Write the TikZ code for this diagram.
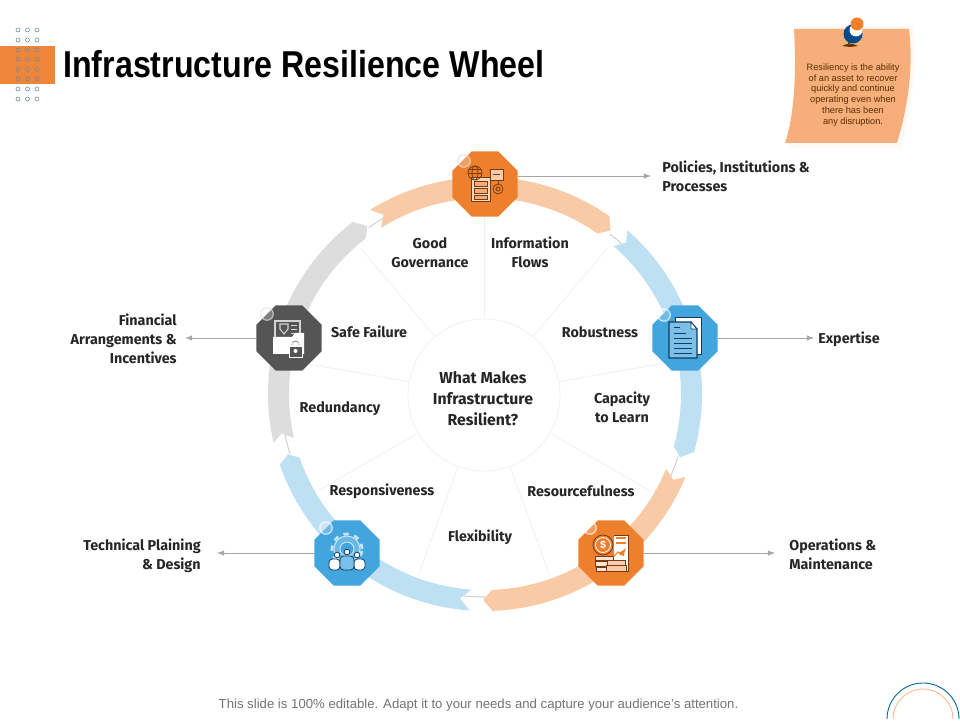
\documentclass[tikz,border=0pt]{standalone}
\usepackage{fontspec}
\usepackage{xcolor}
\usepackage{tikz}
\usetikzlibrary{arrows}
\usetikzlibrary{calc}
\usetikzlibrary{positioning}
\usetikzlibrary{shapes.geometric}
\setmainfont{Liberation Sans}
\newfontfamily\labelfam{Fira Sans}
\newfontfamily\titlefam[FakeStretch=0.86]{Liberation Sans}
\definecolor{orangeMain}{HTML}{EE7F2D}
\definecolor{orangeSoft}{HTML}{F8CBA6}
\definecolor{blueMain}{HTML}{42A5DE}
\definecolor{blueSoft}{HTML}{BDE0F3}
\definecolor{greyMain}{HTML}{555555}
\definecolor{greySoft}{HTML}{DDDDDD}
\definecolor{noteFill}{HTML}{F6AF7B}
\definecolor{spokeCol}{HTML}{F1F1F1}
\definecolor{inkCol}{HTML}{262626}
\definecolor{iconOrange}{HTML}{7A3A10}
\definecolor{iconBlue}{HTML}{123C60}
\tikzset{
  octa/.style={regular polygon, regular polygon sides=8, minimum size=1.408cm, inner sep=0pt},
  txt/.style={inner sep=0pt, text=inkCol, font=\labelfam\bfseries\fontsize{8.15}{10.8}\selectfont},
  ringmark/.style={circle, draw=white, line width=0.7pt, fill=white, fill opacity=0.25, draw opacity=0.7, minimum size=0.25cm, inner sep=0pt},
  leader/.style={-latex, draw=black!35, line width=0.4pt},
  spoke/.style={draw=spokeCol, line width=0.5pt},
  gapline/.style={draw=black!18, line width=0.6pt}
}
\begin{document}
\begin{tikzpicture}[x=0.02cm, y=0.02cm]
\useasboundingbox (0,0) rectangle (960,720);
% corner dots and title
\fill [orangeMain!95!white] (0,636) rectangle (55,674);
\foreach \px in {18,27.5,37}
  \foreach \py in {30,40,50,59.5,69.5,79,89,99}
    \draw [draw=black!40!cyan!40!gray, line width=0.35pt] (\px,720-\py) circle (2);
\node [inner sep=0pt, anchor=west, text=black, font=\titlefam\bfseries\fontsize{21.3}{24}\selectfont] (title) at (63,656) {Infrastructure Resilience Wheel};
% note
\fill [noteFill!8] (799,694) -- (913,694) .. controls (918,650) and (911,610) .. (901,572) -- (789,572) -- cycle;
\fill [noteFill] (794,691) -- (909,691) .. controls (914,650) and (907,610) .. (897,577) -- (785,577) .. controls (793,600) and (797,640) .. (794,691) -- cycle;
\fill [black!60!orange] (842,674) .. controls (848,677) and (852,677) .. (858,674) -- (850,673) -- cycle;
\draw [draw=black!50!orange, line width=1pt] (849,680) -- (849,675);
\fill [blue!35!black!70!cyan] (853,686) circle (9.5);
\fill [white] (856,690) circle (6.5);
\fill [orangeMain] (857,696) circle (6.5);
\node [inner sep=0pt, align=center, text=black!65!orange, font=\fontsize{5.25}{6.2}\selectfont] (noteText) at (853,625) {Resiliency is the ability\\of an asset to recover\\quickly and continue\\operating even when\\there has been\\any disruption.};
% wheel
\node [circle, draw=spokeCol, line width=0.5pt, minimum size=3.04cm, inner sep=0pt] (hub) at (484,325) {};
\begin{scope}[shift={(485,326)}]
\draw [gapline] (52:203) arc (52:47:203);
\draw [gapline] (-18:203) arc (-18:-24:203);
\draw [gapline] (-90:203) arc (-90:-97:203);
\draw [gapline] (-163:204) arc (-163:-170:204);
\draw [gapline] (125:203) arc (125:119:203);
\fill [orangeSoft] (122:217) arc (122:55:217) -- (52.5:206) -- (55:196) arc (55:122:196) -- (119.5:206) -- cycle;
\fill [blueSoft] (49:217) arc (49:-15.5:217) -- (-18:205) -- (-15.5:196) arc (-15.5:49:196) -- (47:207) -- cycle;
\fill [orangeSoft] (-22.5:217) arc (-22.5:-88:217) -- (-90.5:206) -- (-88:196) arc (-88:-22.5:196) -- (-24.5:207) -- cycle;
\fill [blueSoft] (-94:217) arc (-94:-161:217) -- (-163:206) -- (-161:196) arc (-161:-94:196) -- (-97:206) -- cycle;
\fill [greySoft] (-167:217) arc (-167:-232.5:217) -- (-235:205) -- (-232.5:196) arc (-232.5:-167:196) -- (-169:207) -- cycle;
\end{scope}
% spokes from the hub out to the ring
\draw [spoke] (hub.90) -- ($(hub)+(90:191)$);
\draw [spoke] (hub.50) -- ($(hub)+(50:191)$);
\draw [spoke] (hub.10) -- ($(hub)+(10:191)$);
\draw [spoke] (hub.-30) -- ($(hub)+(-30:191)$);
\draw [spoke] (hub.-70) -- ($(hub)+(-70:191)$);
\draw [spoke] (hub.-110) -- ($(hub)+(-110:191)$);
\draw [spoke] (hub.-150) -- ($(hub)+(-150:191)$);
\draw [spoke] (hub.170) -- ($(hub)+(170:191)$);
\draw [spoke] (hub.130) -- ($(hub)+(130:191)$);
\node [inner sep=0pt, align=center, text=inkCol, font=\labelfam\bfseries\fontsize{9}{12.1}\selectfont] (hubText) at (483,321.5) {What Makes\\Infrastructure\\Resilient?};
% octagons
\node [octa, fill=orangeMain] (octInfo) at (485,536) {};
\node [octa, fill=blueMain] (octDoc) at (685,382) {};
\node [octa, fill=orangeMain] (octCoin) at (611,167) {};
\node [octa, fill=blueMain] (octTeam) at (347,167) {};
\node [octa, fill=greyMain] (octSafe) at (289,382) {};
\node [ringmark, draw=white!75!gray] (markInfo) at ($(octInfo)+(-21,23)$) {};
\node [ringmark] (markDoc) at ($(octDoc)+(-21,23)$) {};
\node [ringmark] (markCoin) at ($(octCoin)+(-21,25)$) {};
\node [ringmark] (markTeam) at ($(octTeam)+(-21,25)$) {};
\node [ringmark, draw=white!75!gray] (markSafe) at ($(octSafe)+(-22,24)$) {};
% icon on octInfo
\begin{scope}[shift={(octInfo)}, draw=iconOrange, line width=0.45pt]
\draw [fill=white!70!orangeMain] (-14,7) rectangle (5,-17);
\draw [fill=white!35!orangeMain] (-11,3) rectangle (2,-2);
\draw [fill=white!35!orangeMain] (-11,-4) rectangle (2,-9);
\draw [fill=white!35!orangeMain] (-11,-11) rectangle (2,-15);
\draw (-10,11) circle (7);
\draw (-10,11) ellipse (3 and 7);
\draw (-17,11) -- (-3,11);
\draw (-16,14.5) -- (-4,14.5);
\draw [fill=white!60!orangeMain] (5,15) rectangle (18,4);
\draw (8,10) -- (15,10);
\draw (13,4) -- (13,0);
\draw (13,-5) circle (5);
\draw (13,-5) circle (2);
\end{scope}
% icon on octDoc
\begin{scope}[shift={(octDoc)}]
\draw [fill=white, draw=iconBlue, line width=0.45pt] (-10,21) rectangle (16,-16);
\draw [fill=blueMain!70!white, draw=iconBlue, line width=0.6pt] (-16,16) -- (6,16) -- (12,9) -- (12,-20) -- (-16,-20) -- cycle;
\draw [fill=white, draw=iconBlue, line width=0.45pt] (6,16) -- (6,9) -- (12,9) -- cycle;
\draw [draw=iconBlue, line width=0.45pt] (-11,11) -- (-5,11);
\draw [draw=iconBlue, line width=0.45pt] (-11,5) -- (1,5);
\draw [draw=iconBlue, line width=0.45pt] (-11,0) -- (7,0);
\draw [draw=iconBlue, line width=0.45pt] (-11,-5) -- (7,-5);
\draw [draw=iconBlue, line width=0.45pt] (-11,-10) -- (7,-10);
\draw [draw=iconBlue, line width=0.45pt] (-11,-15) -- (7,-15);
\end{scope}
% icon on octCoin
\begin{scope}[shift={(octCoin)}, draw=iconOrange, line width=0.45pt]
\draw [fill=white] (2,18) rectangle (17,-18);
\fill [orangeMain] (2,18) rectangle (3,-18);
\draw [draw=orangeMain, line width=0.6pt] (5,15) -- (15,15);
\draw [draw=orangeMain, line width=0.6pt] (5,10) -- (15,10);
\draw [-latex, draw=orangeMain, line width=0.6pt] (3,-3) -- (7,1) -- (10,-2) -- (15,5);
\draw [fill=orangeMain] (-8,8) circle (10);
\draw [draw=white] (-8,8) circle (7.5);
\node [inner sep=0pt, text=white, font=\bfseries\fontsize{6}{6}\selectfont] (coinMark) at (-8,8) {\$};
\draw [fill=white!80!orangeMain] (-16,-3) rectangle (2,-7);
\draw [fill=white!60!orangeMain] (-4,-7) rectangle (14,-12);
\draw [fill=white!80!orangeMain] (-16,-8) rectangle (-4,-13);
\draw [fill=white!60!orangeMain] (-5,-12) rectangle (15,-18);
\draw [fill=white!80!orangeMain] (-15,-14) rectangle (-5,-18);
\end{scope}
% icon on octTeam
\begin{scope}[shift={(octTeam)}, draw=white!70!blueMain, line width=0.6pt]
\draw [dash pattern=on 3pt off 3.2pt, line width=1.6pt] (0,4) circle (15);
\draw [fill=blueMain!80!white] (0,4) circle (13);
\draw [fill=blueMain] (0,4) circle (7);
\draw [fill=white, draw=iconBlue, line width=0.45pt] (0,1) circle (2.8);
\draw [fill=white, draw=iconBlue, line width=0.45pt] (-10,-2) circle (2.8);
\draw [fill=white, draw=iconBlue, line width=0.45pt] (10,-2) circle (2.8);
\draw [fill=white, draw=iconBlue, rounded corners=2pt, line width=0.45pt] (-18,-17) rectangle (-7,-6);
\draw [fill=white, draw=iconBlue, rounded corners=2pt, line width=0.45pt] (7,-17) rectangle (18,-6);
\draw [fill=blueMain!70!white, draw=iconBlue, rounded corners=2pt, line width=0.45pt] (-7,-17) rectangle (7,-3);
\end{scope}
% icon on octSafe
\begin{scope}[shift={(octSafe)}]
\draw [draw=white!75!greyMain, line width=0.6pt] (-14,17) rectangle (11,-5);
\draw [draw=white!75!greyMain, line width=0.6pt] (-9,9) -- (-9,14) -- (-1,14) -- (-1,9) -- (-5,4) -- cycle;
\draw [draw=white!75!greyMain, line width=0.5pt] (2,13) -- (8,13);
\draw [draw=white!75!greyMain, line width=0.5pt] (2,9) -- (8,9);
\draw [draw=white!75!greyMain, line width=0.5pt] (2,5) -- (8,5);
\fill [white] (-16,1) -- (3,1) -- (6,5) -- (15,5) -- (15,-16) -- (-16,-16) -- cycle;
\draw [fill=greyMain, draw=white, line width=0.5pt] (0,-8) rectangle (13,-19);
\draw [draw=greyMain, line width=0.8pt] (3,-7) arc (180:0:3.5);
\draw [draw=white, line width=0.6pt] (2.5,-8) arc (180:0:4);
\fill [white] (6.5,-13) circle (2);
\end{scope}
% labels inside the ring
\node [txt, align=center] (txtGood) at (430,467) {Good\\Governance};
\node [txt, align=center] (txtFlows) at (530,468) {Information\\Flows};
\node [txt] (txtRobust) at (600,388) {Robustness};
\node [txt, align=center] (txtLearn) at (622,313) {Capacity\\to Learn};
\node [txt] (txtResource) at (581,229) {Resourcefulness};
\node [txt] (txtFlex) at (480,183) {Flexibility};
\node [txt] (txtRespond) at (382,229) {Responsiveness};
\node [txt] (txtRedund) at (340,311) {Redundancy};
\node [txt] (txtSafe) at (369,388) {Safe Failure};
% labels outside the ring
\node [txt, align=left, anchor=west] (txtPolicies) at (662,544) {Policies, Institutions \&\\Processes};
\node [txt, anchor=west] (txtExpert) at (818,381) {Expertise};
\node [txt, align=left, anchor=west] (txtOps) at (789,166) {Operations \&\\Maintenance};
\node [txt, align=right, anchor=east] (txtTech) at (201,164.5) {Technical Plaining\\\& Design};
\node [txt, align=right, anchor=east] (txtFinance) at (177,381) {Financial\\Arrangements \&\\Incentives};
\coordinate (endPolicies) at (651,544);
\coordinate (endExpert) at (814,382);
\coordinate (endOps) at (775,167);
\coordinate (endTech) at (217,167);
\coordinate (endFinance) at (185,382);
\draw [leader] (octInfo.east |- endPolicies) to (endPolicies);
\draw [leader] (octDoc) to (endExpert);
\draw [leader] (octCoin) to (endOps);
\draw [leader] (octTeam) to (endTech);
\draw [leader] (octSafe) to (endFinance);
% foot of the slide
\node [inner sep=0pt, text=black!55, font=\fontsize{7.5}{8}\selectfont] (footText) at (478.5,15) {This slide is 100\% editable. Adapt it to your needs and capture your audience's attention.};
\draw [draw=blue!30!black!60!cyan, line width=0.5pt] (887,1) arc (180:0:36);
\draw [draw=orangeSoft!80!orangeMain, line width=0.5pt] (893,1) arc (180:0:30);
\end{tikzpicture}
\end{document}
